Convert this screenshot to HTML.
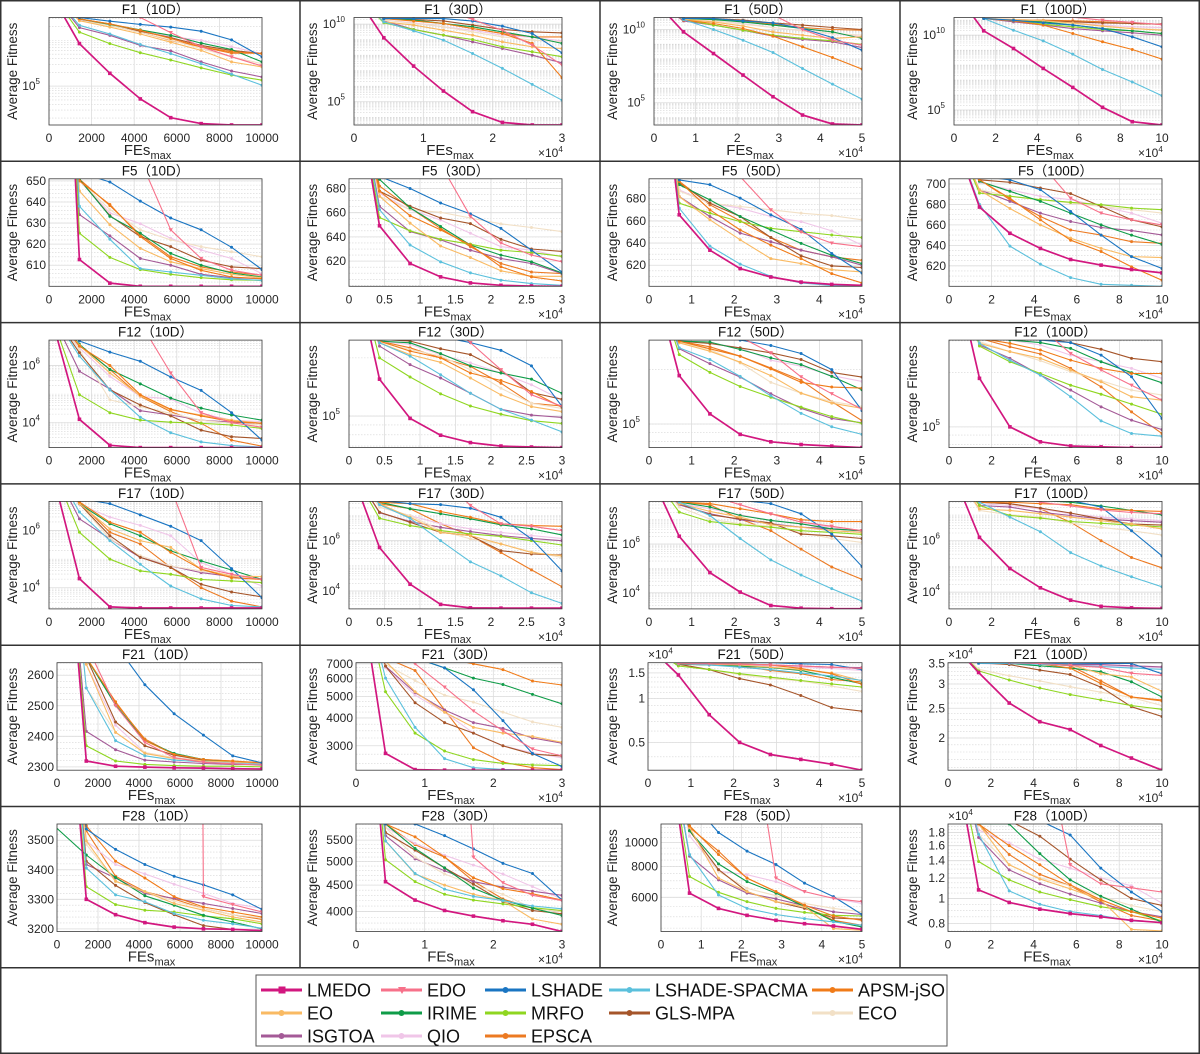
<!DOCTYPE html>
<html><head><meta charset="utf-8"><style>
html,body{margin:0;padding:0;background:#fff}
svg{display:block;font-family:"Liberation Sans",Arial,sans-serif}
</style></head><body>
<svg id="fig" width="1200" height="1054" viewBox="0 0 1200 1054" xmlns="http://www.w3.org/2000/svg"></svg>
<script>
const seriesNames=["LMEDO","EDO","LSHADE","LSHADE-SPACMA","APSM-jSO","EO","IRIME","MRFO","GLS-MPA","ECO","ISGTOA","QIO","EPSCA"];
const seriesColors=["#d2177f","#f7718a","#1a75c2","#5bc0dc","#f07b18","#f9ba63","#0f9c48","#8fd620","#a5552a","#f2e0c6","#a45a97","#f0c6e8","#ec7a22"];
const FE_10=[0,1429,2857,4286,5714,7143,8571,10000];
const FE_30=[0,0.43,0.86,1.29,1.71,2.14,2.57,3];
const FE_50=[0,0.71,1.43,2.14,2.86,3.57,4.29,5];
const FE_100=[0,1.43,2.86,4.29,5.71,7.14,8.57,10];
// log10 fitness for F1/F12/F17; raw fitness otherwise
const F1_10D=[[7.1,5.93,5.28,4.72,4.31,4.18,4.15,4.15],[7.1,8,8,6.5,6.17,5.86,5.64,5.44],[7.1,6.5,6.42,6.35,6.29,6.2,6.01,5.64],[7.1,6.33,6.14,5.91,5.71,5.49,5.26,5.02],[7.1,6.47,6.36,6.22,6.04,5.86,5.75,5.71],[7.1,6.43,6.29,6.14,5.96,5.78,5.53,5.42],[7.1,6.47,6.35,6.23,6.11,5.94,5.8,5.53],[7.1,6.18,5.93,5.73,5.57,5.4,5.24,5.13],[7.1,6.47,6.36,6.2,6.06,5.89,5.78,5.71],[7.1,6.43,6.33,6.18,6.01,5.82,5.64,5.49],[7.1,6.28,6.11,5.89,5.77,5.53,5.33,5.2],[7.1,6.45,6.36,6.22,6.09,6.0,5.86,5.71],[7.1,6.47,6.33,6.18,6.0,5.86,5.72,5.72]];
const F1_30D=[[12,9.12,7.3,5.69,4.36,3.67,3.5,3.5],[12,11,11,11,10.3,9.6,8.65,7.36],[12,10.36,10.36,10.36,10.2,9.87,9.4,8.15],[12,10.15,9.57,8.97,8.11,7.15,6.12,5.1],[12,10.36,10.2,10.04,9.72,9.4,8.76,6.55],[12,10.15,9.94,9.61,9.29,8.86,8.54,8.43],[12,10.36,10.26,10.04,9.83,9.5,9.18,8.76],[12,10.09,9.66,9.29,9.01,8.54,8.22,7.9],[12,10.36,10.3,10.21,9.94,9.66,9.51,9.44],[12,10.26,10.04,9.83,9.5,9.18,8.97,8.86],[12,10.21,9.66,9.29,8.86,8.43,8.0,7.51],[12,10.26,10.09,9.83,9.61,9.29,9.14,8.93],[12,10.36,10.26,10.04,9.72,9.4,9.18,9.18]];
const F1_50D=[[12,9.84,8.36,6.89,5.41,4.16,3.55,3.48],[12,11,11,11,11,10,9.27,8.93],[12,10.75,10.75,10.59,10.45,10.07,9.45,8.59],[12,10.68,10,9.27,8.43,7.34,6.27,5.25],[12,10.64,10.41,10.07,9.55,8.82,8.09,7.3],[12,10.68,10.52,10.23,9.84,9.61,9.39,9.5],[12,10.75,10.68,10.52,10.3,10.07,9.84,9.39],[12,10.68,10.3,9.95,9.61,9.39,9.23,8.98],[12,10.75,10.75,10.64,10.45,10.3,10.14,10],[12,10.68,10.59,10.36,10.14,9.91,9.73,9.61],[12,10.59,10.3,9.95,9.55,9.32,9.16,8.77],[12,10.68,10.59,10.41,10.14,9.91,9.73,9.5],[12,10.75,10.68,10.59,10.36,10.14,10,9.95]];
const F1_100D=[[13,10.29,9.11,7.78,6.51,5.18,4.22,4.0],[13,12,12,12,11.2,11,10.85,10.7],[13,11.11,11,10.82,10.67,10.44,9.89,9.22],[13,11.11,10.33,9.62,8.73,7.71,6.87,5.96],[13,11.11,10.96,10.67,10.11,9.56,9.04,8.4],[13,11.11,11.04,10.96,10.82,10.6,10.44,10.33],[13,11.11,11,10.89,10.67,10.44,10.29,10.11],[13,11.11,10.96,10.73,10.56,10.38,10.29,10.11],[13,11.11,11,10.96,10.89,10.82,10.78,10.73],[13,11.11,11.04,10.96,10.78,10.6,10.44,10.38],[13,11.11,10.89,10.67,10.44,10.29,10.16,10],[13,11.11,11.04,10.96,10.82,10.67,10.56,10.51],[13,11.11,11.04,11,10.96,10.89,10.78,10.73]];
const F5_10D=[[900,612.7,601.5,600,600,600,600,600],[900,680,680,660,626.8,613.2,607.6,605.2],[900,654,649.5,640.4,632.4,626.8,618.5,607.9],[900,638,622.3,608.4,606.8,605.2,603.6,602.8],[900,650,638.8,623.6,613.2,607.6,604.4,603.6],[900,645.2,629.2,618,611.6,608.4,605.7,604.1],[900,650.8,633.2,625.2,615.6,610,606.3,604.4],[900,625.2,613.7,607.9,605.7,604.1,603.1,602.8],[900,650.8,633.5,623.6,618.8,612.4,609.2,608.4],[900,650,636.4,626.8,622,618.8,616.4,614],[900,634,623.9,613.2,610,605.7,604.1,603.6],[900,650,634.8,629.7,622.8,617.2,613.2,606],[900,650.8,638.3,624.4,614,609.2,606.8,605.2]];
const F5_30D=[[800,649.2,618,607,602,600,599.4,599.2],[800,720,720,700,657,635,625,619.4],[800,690,680,668,659,647,629,611],[800,662.5,633.3,619.4,610.3,604.2,601.4,600],[800,677.8,657.5,645.8,633.3,615.3,607,603.6],[800,673.6,651.4,632.5,623,612,607.5,607.5],[800,687.5,664,648.6,633.3,625,619.4,610.3],[800,656,645,638,634,629,627,624],[800,677.8,665.3,655.6,651,638,630,628],[800,673.6,662.5,660.3,655.6,650.8,647.8,644.4],[800,665.3,644.4,637.5,629,622.2,618,609.7],[800,676,662.5,654,643,632,629,623.6],[800,682,664,647,632,618,611,609.7]];
const F5_50D=[[900,665.5,633.6,617,609.4,604.8,602.7,601.8],[900,720,720,700,670,650,640,636.7],[900,697,692.7,680.6,665.5,652.4,630.6,613],[900,671.5,637.3,621,610,604,601.8,601],[900,695.7,670,651.8,638.2,626,612.4,604],[900,682,661,643,626,621.5,616,614],[900,692.7,679,664,651.8,639.7,629,621.5],[900,676,667,659.4,653.3,650.3,647.3,645],[900,694,676,664,645,628.5,619.4,618],[900,687,676,673,670,667,664.8,661],[900,682,664,649,641.2,633.6,627.6,620],[900,688,676,671.5,664,659.4,651,638.2],[900,695.7,674.5,660,645,633.6,627.6,624.5]];
const F5_100D=[[760,677.4,651.8,637,626.2,620.7,616.4,613.1],[760,720,720,720,686,671.5,665,660],[760,707.5,704,694.4,673,650,629,617.4],[760,680,639.3,621.6,608.5,602,601,600],[760,704,686,665,645,634,619,606],[760,694,676,660,647,637,629,628],[760,702.6,692.8,683,671.5,660,650,641],[760,691,688,684.6,682,679.7,676.4,674.8],[760,704,701.6,696,690.5,678,665,658],[760,694.4,687.9,684.6,681.3,678,674.8,671.5],[760,694.4,683,671.5,663.3,657.4,654.4,650.2],[760,701.6,694.4,687.9,684.6,678,671.5,661.6],[760,704,684.6,668.2,655,650,643.6,642]];
const F12_10D=[[8,4.12,3.21,3.13,3.13,3.13,3.13,3.13],[8,8,8,7.5,5.74,4.35,4.0,3.84],[8,6.86,6.47,6.15,5.6,5.13,4.35,3.39],[8,6.33,5.15,4.19,3.65,3.33,3.2,3.15],[8,6.68,6.0,4.98,4.47,4.24,4.04,3.98],[8,6.71,5.74,4.94,4.45,4.27,4.09,3.98],[8,6.74,5.86,5.36,4.86,4.51,4.27,4.09],[8,4.98,4.35,4.09,4.02,3.98,3.92,3.8],[8,6.45,5.15,4.62,4.24,3.74,3.51,3.45],[8,6.56,4.8,4.56,4.33,4.09,3.98,3.92],[8,5.8,5.18,4.42,4.27,4.09,4.02,3.98],[8,6.62,5.62,4.92,4.83,4.33,4.09,4.04],[8,6.71,5.86,4.92,4.39,3.98,3.39,3.18]];
const F12_30D=[[5.9,5.191,4.988,4.901,4.863,4.845,4.84,4.837],[5.9,5.6,5.6,5.5,5.38,5.24,5.11,5.05],[5.9,5.41,5.41,5.41,5.38,5.34,5.26,5.05],[5.9,5.379,5.31,5.214,5.118,5.035,4.979,4.918],[5.9,5.388,5.336,5.301,5.223,5.184,5.127,5.045],[5.9,5.379,5.318,5.278,5.197,5.11,5.049,5.023],[5.9,5.388,5.379,5.323,5.26,5.223,5.191,5.118],[5.9,5.301,5.202,5.115,5.052,5.01,4.976,4.962],[5.9,5.397,5.388,5.348,5.318,5.237,5.122,5.087],[5.9,5.383,5.344,5.31,5.24,5.144,5.066,5.04],[5.9,5.362,5.266,5.197,5.118,5.035,5.005,4.993],[5.9,5.388,5.371,5.318,5.275,5.223,5.162,5.083],[5.9,5.388,5.353,5.301,5.257,5.17,5.066,5.052]];
const F12_50D=[[5.9,5.267,5.056,4.943,4.902,4.887,4.878,4.87],[5.9,5.6,5.55,5.48,5.393,5.26,5.167,5.081],[5.9,5.476,5.476,5.463,5.433,5.389,5.3,5.074],[5.9,5.42,5.356,5.263,5.156,5.059,4.985,4.943],[5.9,5.457,5.415,5.374,5.304,5.23,5.204,5.198],[5.9,5.448,5.402,5.341,5.267,5.17,5.115,5.087],[5.9,5.457,5.452,5.411,5.365,5.328,5.263,5.189],[5.9,5.383,5.285,5.207,5.148,5.093,5.041,5.004],[5.9,5.457,5.444,5.42,5.393,5.356,5.285,5.259],[5.9,5.452,5.411,5.337,5.23,5.17,5.124,5.096],[5.9,5.415,5.333,5.259,5.167,5.087,5.031,5.007],[5.9,5.457,5.448,5.42,5.352,5.319,5.267,5.235],[5.9,5.457,5.426,5.374,5.309,5.241,5.124,5.019]];
const F12_100D=[[6,5.269,5,4.917,4.894,4.889,4.885,4.885],[6,5.8,5.7,5.55,5.407,5.315,5.231,5.148],[6,5.491,5.491,5.481,5.467,5.398,5.278,5.046],[6,5.463,5.37,5.287,5.167,5.033,4.963,4.948],[6,5.491,5.463,5.426,5.37,5.324,5.296,5.296],[6,5.463,5.417,5.38,5.315,5.25,5.167,5.148],[6,5.491,5.481,5.467,5.435,5.361,5.3,5.244],[6,5.448,5.361,5.296,5.231,5.181,5.126,5.07],[6,5.491,5.491,5.491,5.467,5.43,5.38,5.361],[6,5.472,5.417,5.367,5.306,5.256,5.204,5.176],[6,5.454,5.38,5.287,5.204,5.111,5.037,4.985],[6,5.491,5.481,5.454,5.398,5.361,5.324,5.269],[6,5.491,5.444,5.404,5.324,5.222,5.083,4.963]];
const F17_10D=[[8.5,4.32,3.33,3.29,3.29,3.29,3.29,3.29],[8.5,8,8,8,7.5,4.71,4.47,4.29],[8.5,7.12,6.94,6.55,6.15,5.65,4.67,3.65],[8.5,6.65,5.65,4.82,4.06,3.61,3.38,3.33],[8.5,7,6.29,5.94,5.24,4.65,4.35,4.29],[8.5,6.94,6.06,5.65,5.41,4.65,4.41,4.39],[8.5,6.94,6.24,5.82,5.29,4.94,4.62,4.29],[8.5,5.94,5,4.59,4.47,4.29,4.24,4.18],[8.5,6.94,5.82,5.06,4.71,4.12,3.85,3.68],[8.5,6.94,5.71,5.12,4.76,4.59,4.41,4.29],[8.5,6.41,5.71,5.06,4.76,4.53,4.39,4.29],[8.5,6.91,6.47,6.18,5.82,4.88,4.47,4.06],[8.5,7,5.94,5.53,4.71,4,3.53,3.33]];
const F17_30D=[[9,5.73,4.27,3.47,3.33,3.32,3.32,3.32],[9,9,9,8.5,7.4,6.67,6.57,6.4],[9,7.6,7.47,7.43,7.29,6.93,6.07,4.8],[9,7.43,6.89,6,5.16,4.6,3.93,3.51],[9,7.53,7.47,7.16,6.93,6.67,6.6,6.57],[9,7.47,6.93,6.33,6.2,5.87,5.53,5.4],[9,7.53,7.27,7.07,6.87,6.63,6.47,6.23],[9,6.89,6.6,6.4,6.27,6.17,6,5.83],[9,7.13,6.73,6.33,6.2,5.6,5.47,5.43],[9,7.33,7,6.4,6.07,5.87,5.56,5.33],[9,7.11,6.76,6.53,6.36,6.2,6.09,6],[9,7.33,7,6.67,6.47,6.33,6.2,6.09],[9,7.47,7.27,6.67,6.2,5.53,4.84,4.17]];
const F17_50D=[[9,6.32,4.83,4.03,3.48,3.37,3.35,3.35],[9,8.5,8,7.61,7.24,6.9,6.73,6.55],[9,7.8,7.8,7.8,7.66,7.24,6.41,5.08],[9,7.72,7.17,6.23,5.35,4.73,4.17,3.66],[9,7.72,7.66,7.45,7.24,7,6.92,6.92],[9,7.66,7.34,7.1,6.79,6.69,6.55,6.48],[9,7.72,7.52,7.17,6.97,6.83,6.62,6.55],[9,7.31,6.92,6.79,6.69,6.55,6.48,6.4],[9,7.66,7.2,7.03,6.87,6.41,6.34,6.23],[9,7.52,7.03,6.83,6.73,6.48,6.23,6.07],[9,7.61,7.24,7,6.83,6.69,6.62,6.55],[9,7.66,7.45,7.2,6.97,6.83,6.69,6.48],[9,7.72,7.61,7.03,6.55,5.79,5.06,4.55]];
const F17_100D=[[9,6.13,4.92,4.17,3.69,3.45,3.39,3.37],[9,8.5,7.8,7.5,7.35,7.2,7.1,7.05],[9,7.6,7.6,7.6,7.57,7.31,6.39,5.41],[9,7.5,6.92,6.35,5.54,5.02,4.6,4.21],[9,7.5,7.5,7.44,7.4,7.24,7.18,7.14],[9,7.24,7.18,7.05,6.92,6.78,6.65,6.46],[9,7.63,7.63,7.57,7.5,7.35,7.18,7.01],[9,7.37,6.98,6.88,6.75,6.68,6.61,6.54],[9,7.5,7.44,7.27,7.08,6.85,6.65,6.61],[9,7.18,7.01,6.92,6.69,6.52,6.39,6.22],[9,7.37,7.31,7.11,6.98,6.85,6.78,6.72],[9,7.44,7.37,7.24,7.05,6.92,6.85,6.78],[9,7.5,7.44,7.24,6.72,6,5.35,4.95]];
const F21_10D=[[3500,2319,2302,2299,2297,2296,2294,2293],[3500,2700,2500,2380,2330,2315,2310,2305],[3500,2700,2700,2569,2474,2404,2336,2313],[3500,2558,2386,2336,2322,2316,2311,2308],[3500,2658,2513,2386,2341,2324,2319,2313],[3500,2636,2413,2344,2327,2319,2316,2313],[3500,2658,2502,2386,2344,2324,2316,2313],[3500,2369,2319,2308,2304,2302,2302,2300],[3500,2658,2447,2369,2338,2322,2318,2313],[3500,2558,2413,2347,2330,2322,2318,2316],[3500,2416,2356,2322,2316,2311,2308,2307],[3500,2636,2436,2347,2330,2319,2313,2311],[3500,2658,2508,2391,2341,2324,2319,2313]];
const F21_30D=[[20000,2773,2344,2331,2331,2331,2331,2331],[20000,9000,7000,5500,4300,3500,2900,2700],[20000,7450,7450,6710,5350,3890,2770,2420],[20000,6040,3630,2625,2390,2350,2330,2330],[20000,7450,7450,7450,7000,6590,5860,5620],[20000,7200,5240,4240,3630,3420,3300,3110],[20000,7450,7450,6710,6040,5650,5100,4630],[20000,5240,3420,2840,2600,2500,2460,2440],[20000,6830,4680,3810,3420,3000,2750,2700],[20000,6950,5890,5060,4710,4250,3840,3630],[20000,6830,5200,4340,3810,3590,3250,3080],[20000,6710,5060,4240,3420,3000,2790,2650],[20000,7450,6530,4340,2940,2530,2390,2345]];
const F21_50D=[[2.3,1.45,0.776,0.502,0.415,0.384,0.356,0.324],[2.3,1.73,1.73,1.72,1.7,1.67,1.64,1.61],[2.3,1.76,1.76,1.76,1.76,1.73,1.71,1.58],[2.3,1.73,1.7,1.64,1.58,1.5,1.43,1.33],[2.3,1.76,1.76,1.73,1.7,1.61,1.48,1.25],[2.3,1.73,1.72,1.7,1.64,1.58,1.5,1.32],[2.3,1.72,1.7,1.67,1.63,1.56,1.4,1.26],[2.3,1.67,1.58,1.48,1.4,1.33,1.26,1.2],[2.3,1.72,1.58,1.37,1.24,1.05,0.87,0.82],[2.3,1.7,1.58,1.46,1.37,1.32,1.22,1.12],[2.3,1.73,1.73,1.72,1.7,1.67,1.64,1.63],[2.3,1.73,1.73,1.7,1.67,1.64,1.61,1.56],[2.3,1.73,1.7,1.67,1.56,1.48,1.35,1.3]];
const F21_100D=[[4.2,3.27,2.6,2.26,2.13,1.89,1.72,1.57],[4.2,3.6,3.52,3.5,3.45,3.4,3.25,3.2],[4.2,3.52,3.52,3.5,3.49,3.5,3.5,3.24],[4.2,3.5,3.5,3.48,3.45,3.42,3.38,3.35],[4.2,3.52,3.5,3.49,3.38,3.01,2.72,2.66],[4.2,3.52,3.5,3.5,3.47,3.24,3.16,2.84],[4.2,3.52,3.5,3.44,3.38,3.29,3.05,2.72],[4.2,3.31,3.09,2.91,2.77,2.66,2.55,2.48],[4.2,3.52,3.47,3.33,3.22,2.93,2.53,2.35],[4.2,3.35,3.19,3.07,2.94,2.82,2.71,2.55],[4.2,3.5,3.49,3.49,3.47,3.47,3.44,3.41],[4.2,3.52,3.5,3.49,3.47,3.44,3.41,3.39],[4.2,3.52,3.5,3.5,3.44,3.07,2.72,2.64]];
const F28_10D=[[4500,3300,3248,3221,3206,3200,3198,3194],[20000,20000,20000,20000,20000,3309,3282,3257],[4500,3538,3469,3418,3378,3349,3315,3266],[4500,3406,3315,3292,3252,3229,3217,3202],[4500,3549,3429,3372,3309,3274,3257,3240],[4500,3498,3361,3326,3286,3263,3240,3223],[3540,3450,3374,3312,3280,3246,3223,3200],[4500,3343,3282,3263,3257,3244,3234,3217],[4500,3429,3347,3289,3248,3211,3198,3194],[4500,3486,3360,3326,3294,3269,3248,3237],[4500,3418,3372,3320,3303,3286,3269,3252],[4500,3498,3418,3386,3351,3320,3286,3269],[4500,3532,3378,3326,3301,3269,3248,3232]];
const F28_30D=[[20000,4570,4210,4020,3920,3840,3780,3660],[30000,30000,30000,30000,5100,4550,4300,4200],[20000,5910,5910,5610,5290,4960,4740,4210],[20000,5480,4740,4420,4280,4200,4100,4050],[20000,5910,5580,5100,4650,4430,4330,4210],[20000,5480,4730,4500,4320,4200,3870,3780],[20000,5910,5300,4860,4440,4210,4060,3930],[20000,5040,4570,4320,4210,4140,4070,4020],[20000,5690,5260,4860,4520,4180,4020,3960],[20000,5820,5100,4730,4500,4320,4060,4000],[20000,5610,5060,4800,4570,4460,4380,4300],[20000,5820,5420,5140,4920,4730,4470,4230],[20000,5910,5390,5100,4580,4230,4060,4000]];
const F28_50D=[[40000,6240,5410,5070,4840,4690,4590,4450],[40000,40000,40000,40000,7180,6330,5940,5760],[40000,15000,10990,9240,8150,6850,6040,5110],[40000,8950,6130,5410,5110,4920,4770,4620],[40000,11700,8950,7180,6330,5580,5040,4840],[40000,11520,7180,6330,5760,5500,4480,4410],[40000,11170,8200,6950,6240,5500,4800,4550],[40000,7290,6290,5760,5410,5210,5070,5040],[40000,11170,7770,6330,5760,5410,4950,4890],[40000,11340,7650,6530,6090,5670,5410,5240],[40000,8810,7060,6240,5910,5550,5240,5110],[40000,10650,7650,7410,6950,6330,5940,5670],[40000,11520,9240,7180,6330,5500,4840,4620]];
const F28_100D=[[5,1.08,0.966,0.91,0.875,0.85,0.824,0.807],[5,5,5,5,1.35,1.14,1.1,1.06],[5,2.5,2.3,2.0,1.76,1.31,1.06,0.89],[5,1.77,1.07,0.95,0.89,0.86,0.82,0.81],[5,1.94,1.6,1.35,1.13,0.99,0.89,0.84],[5,1.94,1.35,1.19,1.09,0.99,0.76,0.75],[5,1.94,1.94,1.49,1.18,1.02,0.91,0.81],[5,1.39,1.18,1.06,0.99,0.93,0.89,0.82],[5,2.2,2.0,1.74,1.42,1.18,1.0,0.94],[5,1.77,1.35,1.2,1.12,1.02,0.94,0.89],[5,1.72,1.29,1.14,1.04,0.96,0.89,0.85],[5,1.84,1.64,1.42,1.31,1.2,1.12,0.96],[5,1.94,1.48,1.24,1.12,0.97,0.86,0.82]];
const yTicks_F1_10D=[5],yTicks_F1_hi=[5,10],yTicks_F12_10D=[4,6],yTicks_F12_hi=[5],yTicks_F17=[4,6];
const yTicks_F5_10D=[610,620,630,640,650],yTicks_F5=[620,640,660,680,700];
const yTicks_F21_10D=[2300,2400,2500,2600],yTicks_F21_30D=[3000,4000,5000,6000,7000],yTicks_F21_50D=[0.5,1,1.5],yTicks_F21_100D=[2,2.5,3,3.5];
const yTicks_F28_10D=[3200,3300,3400,3500],yTicks_F28_30D=[4000,4500,5000,5500],yTicks_F28_50D=[6000,8000,10000],yTicks_F28_100D=[0.8,1,1.2,1.4,1.6,1.8];
const xTicks_10=[0,2000,4000,6000,8000,10000],xTicks_30a=[0,1,2,3],xTicks_30b=[0,0.5,1,1.5,2,2.5,3],xTicks_50=[0,1,2,3,4,5],xTicks_100=[0,2,4,6,8,10];

const panels=[
{t:"F1（10D）",d:F1_10D,s:"exp",lo:4.15,hi:6.5,yt:yTicks_F1_10D,dim:10,xt:xTicks_10},
{t:"F1（30D）",d:F1_30D,s:"exp",lo:3.5,hi:10.43,yt:yTicks_F1_hi,dim:30,xt:xTicks_30a,left:54},
{t:"F1（50D）",d:F1_50D,s:"exp",lo:3.48,hi:10.82,yt:yTicks_F1_hi,dim:50,xt:xTicks_50,left:54},
{t:"F1（100D）",d:F1_100D,s:"exp",lo:4.0,hi:11.18,yt:yTicks_F1_hi,dim:100,xt:xTicks_100,left:54},
{t:"F5（10D）",d:F5_10D,s:"lin",lo:600,hi:651,yt:yTicks_F5_10D,ms:2,dim:10,xt:xTicks_10},
{t:"F5（30D）",d:F5_30D,s:"lin",lo:599.2,hi:688,yt:yTicks_F5,ms:5,dim:30,xt:xTicks_30b},
{t:"F5（50D）",d:F5_50D,s:"lin",lo:601,hi:698,yt:yTicks_F5,ms:5,dim:50,xt:xTicks_50},
{t:"F5（100D）",d:F5_100D,s:"lin",lo:600,hi:705,yt:yTicks_F5,ms:5,dim:100,xt:xTicks_100},
{t:"F12（10D）",d:F12_10D,s:"exp",lo:3.13,hi:6.89,yt:yTicks_F12_10D,dim:10,xt:xTicks_10},
{t:"F12（30D）",d:F12_30D,s:"exp",lo:4.837,hi:5.393,yt:yTicks_F12_hi,dim:30,xt:xTicks_30b},
{t:"F12（50D）",d:F12_50D,s:"exp",lo:4.87,hi:5.463,yt:yTicks_F12_hi,dim:50,xt:xTicks_50},
{t:"F12（100D）",d:F12_100D,s:"exp",lo:4.885,hi:5.481,yt:yTicks_F12_hi,dim:100,xt:xTicks_100},
{t:"F17（10D）",d:F17_10D,s:"exp",lo:3.26,hi:7.02,yt:yTicks_F17,dim:10,xt:xTicks_10},
{t:"F17（30D）",d:F17_30D,s:"exp",lo:3.29,hi:7.56,yt:yTicks_F17,dim:30,xt:xTicks_30b},
{t:"F17（50D）",d:F17_50D,s:"exp",lo:3.34,hi:7.75,yt:yTicks_F17,dim:50,xt:xTicks_50},
{t:"F17（100D）",d:F17_100D,s:"exp",lo:3.35,hi:7.53,yt:yTicks_F17,dim:100,xt:xTicks_100},
{t:"F21（10D）",d:F21_10D,s:"lin",lo:2289,hi:2641,yt:yTicks_F21_10D,ms:20,dim:10,xt:xTicks_10,left:57},
{t:"F21（30D）",d:F21_30D,s:"log",lo:2330,hi:7080,yt:yTicks_F21_30D,ms:250,dim:30,xt:xTicks_30a,left:56},
{t:"F21（50D）",d:F21_50D,s:"log",lo:0.324,hi:1.76,yt:yTicks_F21_50D,ms:0.1,dim:50,xt:xTicks_50,left:48,mult:true},
{t:"F21（100D）",d:F21_100D,s:"log",lo:1.57,hi:3.52,yt:yTicks_F21_100D,ms:0.1,dim:100,xt:xTicks_100,left:48,mult:true},
{t:"F28（10D）",d:F28_10D,s:"lin",lo:3191,hi:3555,yt:yTicks_F28_10D,ms:20,dim:10,xt:xTicks_10,left:57},
{t:"F28（30D）",d:F28_30D,s:"log",lo:3660,hi:5910,yt:yTicks_F28_30D,ms:100,dim:30,xt:xTicks_30a,left:56},
{t:"F28（50D）",d:F28_50D,s:"log",lo:4360,hi:11900,yt:yTicks_F28_50D,ms:500,dim:50,xt:xTicks_50,left:61},
{t:"F28（100D）",d:F28_100D,s:"log",lo:0.746,hi:1.94,yt:yTicks_F28_100D,ms:0.05,dim:100,xt:xTicks_100,left:48,mult:true}
];
const feFor={10:FE_10,30:FE_30,50:FE_50,100:FE_100};
const xMaxFor={10:10000,30:3,50:5,100:10};

const svg=document.getElementById('fig');
const NS='http://www.w3.org/2000/svg';
function mk(tag,attrs,parent){const e=document.createElementNS(NS,tag);for(const k in attrs)e.setAttribute(k,attrs[k]);(parent||svg).appendChild(e);return e;}

const bg=mk('rect',{x:0,y:0,width:1200,height:1054,fill:'#fff'});



function tnorm(p,v){
  if(p.s==='log') return (Math.log10(v)-Math.log10(p.lo))/(Math.log10(p.hi)-Math.log10(p.lo));
  return (v-p.lo)/(p.hi-p.lo);
}

panels.forEach((p,i)=>{
  const col=i%4,row=Math.floor(i/4);
  const cx=col*300, ry=row*161.3;
  const L=cx+(p.left||49), R=cx+262, T=ry+17.5, B=ry+125;
  const xMax=xMaxFor[p.dim];
  const xs=v=>L+(v/xMax)*(R-L);
  const ys=v=>B-tnorm(p,v)*(B-T);
  const g=mk('g',{});
  
  
  const cid='clip'+i;
  const cp=mk('clipPath',{id:cid},g);
  mk('rect',{x:L,y:T,width:R-L,height:B-T},cp);
  const minors=[];
  if(p.s==='exp'){
    for(let d=Math.floor(p.lo);d<=Math.ceil(p.hi);d++){for(let m=1;m<=9;m++){const v=d+Math.log10(m);if(v>p.lo&&v<p.hi)minors.push(v);}}
  } else {
    const st=p.ms;for(let v=Math.ceil(p.lo/st)*st;v<p.hi;v+=st)minors.push(v);
  }
  minors.forEach(v=>{const y=ys(v);const gl=mk('line',{x1:L,x2:R,y1:y,y2:y,stroke:'#d6d6d6','stroke-width':0.6,'stroke-dasharray':'1.5,1.5'},g);
    
    });
  p.yt.forEach(v=>{
    const tn=tnorm(p,v); if(tn<-0.02||tn>1.02) return;
    const y=ys(v);
    const gl=mk('line',{x1:L,x2:R,y1:y,y2:y,stroke:'#dcdcdc','stroke-width':0.8},g);
    
    
    const tx=mk('text',{x:L-3,y:y+4,'font-size':12,'text-anchor':'end',fill:'#262626'},g);
    
    
    if(p.s==='exp'){tx.textContent='10';const sp=mk('tspan',{dy:-6,'font-size':8},tx);sp.textContent=String(v);tx.setAttribute('x',L-9);}
    else tx.textContent=String(v);
  });
  p.xt.forEach(v=>{const x=xs(v);
    const gl=mk('line',{x1:x,x2:x,y1:T,y2:B,stroke:'#dcdcdc','stroke-width':0.8},g);
    
    
    const tx=mk('text',{x:x,y:B+17,'font-size':12,'text-anchor':'middle',fill:'#262626'},g);
    
    
    tx.textContent=String(v);
  });
  const fe=feFor[p.dim];
  const sg=mk('g',{'clip-path':'url(#'+cid+')'},g);
  for(let s=seriesNames.length-1;s>=0;s--){
    const vals=p.d[s];
    const pts=vals.map((v,k)=>[xs(fe[k]),ys(v)]);
    const pl=mk('polyline',{points:pts.map(q=>q[0].toFixed(1)+','+q[1].toFixed(1)).join(' '),fill:'none',stroke:seriesColors[s],'stroke-width':s===0?1.7:1.1,'stroke-linejoin':'round'},sg);
    
    
    for(let k=1;k<pts.length;k++){
      const [x,y]=pts[k];let m;
      if(s===0) m=mk('rect',{x:x-1.8,y:y-1.8,width:3.6,height:3.6,fill:seriesColors[s]},sg);
      else if(s===1) m=mk('polygon',{points:`${x-2.2},${y-1.6} ${x+2.2},${y-1.6} ${x},${y+2}`,fill:seriesColors[s]},sg);
      else m=mk('circle',{cx:x,cy:y,r:1.5,fill:seriesColors[s]},sg);
      
      
    }
  }
  const bx=mk('rect',{x:L,y:T,width:R-L,height:B-T,fill:'none',stroke:'#3a3a3a','stroke-width':0.8},g);
  
  
  const tt=mk('text',{x:(L+R)/2,y:ry+14,'font-size':13.5,'text-anchor':'middle',fill:'#111'},g);
  
  
  tt.textContent=p.t;
  tt.style.fontFamily='"Liberation Sans","Noto Sans CJK SC",sans-serif';
  const yl=mk('text',{x:0,y:0,'font-size':13.5,'text-anchor':'middle',fill:'#262626',transform:`translate(${cx+17},${(T+B)/2}) rotate(-90)`},g);
  
  
  yl.textContent='Average Fitness';
  const xl=mk('text',{x:(L+R)/2-8,y:ry+155,'font-size':15,'text-anchor':'middle',fill:'#262626'},g);
  
  
  xl.textContent='FEs';
  const sub=mk('tspan',{dy:4,'font-size':11},xl);sub.textContent='max';
  if(p.dim!==10){
    const mx=mk('text',{x:R-24,y:ry+157,'font-size':12,fill:'#262626'},g);
    
    
    mx.textContent='×10';const s4=mk('tspan',{dy:-5,'font-size':8},mx);s4.textContent='4';
  }
  if(p.mult){
    const my=mk('text',{x:L,y:T-4,'font-size':12,fill:'#262626'},g);
    
    
    my.textContent='×10';const s4=mk('tspan',{dy:-5,'font-size':8},my);s4.textContent='4';
  }
});

for(let c=1;c<4;c++){const l=mk('line',{x1:c*300,x2:c*300,y1:0,y2:968,stroke:'#333','stroke-width':1.5});
  
  }
for(let r=1;r<=6;r++){const y=r*161.3;const l=mk('line',{x1:0,x2:1200,y1:y,y2:y,stroke:'#333','stroke-width':1.5});
  
  }
const ob=mk('rect',{x:0.75,y:0.75,width:1198.5,height:1052.5,fill:'none',stroke:'#333','stroke-width':1.5});



const lg=mk('g',{});


const lb=mk('rect',{x:256,y:975,width:691,height:71,fill:'#fff',stroke:'#555','stroke-width':1},lg);


const legCols=[261,381,485,609,812];
seriesNames.forEach((n,i)=>{
  const r=Math.floor(i/5),c=i%5;const x=legCols[c],y=990+r*23;
  const eg=mk('g',{},lg);
  
  
  mk('line',{x1:x,x2:x+41,y1:y,y2:y,stroke:seriesColors[i],'stroke-width':3},eg);
  if(i===0) mk('rect',{x:x+17.5,y:y-3.5,width:7,height:7,fill:seriesColors[i]},eg);
  else if(i===1) mk('polygon',{points:`${x+17},${y-3} ${x+25},${y-3} ${x+21},${y+4}`,fill:seriesColors[i]},eg);
  else mk('circle',{cx:x+20.5,cy:y,r:3,fill:seriesColors[i]},eg);
  const t=mk('text',{x:x+46,y:y+6.5,'font-size':18,fill:'#111'},eg);
  t.textContent=n;
});
</script>
</body></html>
